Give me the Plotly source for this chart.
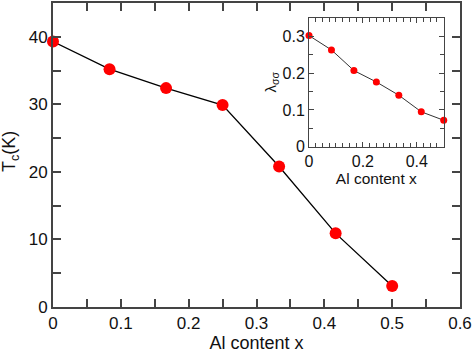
import plotly.graph_objects as go

al_x = [0, 1/12, 2/12, 3/12, 4/12, 5/12, 6/12]
tc = [39.3, 35.2, 32.4, 29.9, 20.8, 10.9, 3.1]
lam = [0.302, 0.263, 0.207, 0.176, 0.140, 0.095, 0.072]

axc = "#444444"
fam = "Liberation Sans"
def F(s):
    return dict(family=fam, size=s, color="#111111")

fig = go.Figure()
fig.add_trace(go.Scatter(x=al_x, y=tc, mode="lines+markers",
                         line=dict(color="black", width=1.3),
                         marker=dict(color="#ff0000", size=12),
                         cliponaxis=False, xaxis="x", yaxis="y"))
fig.add_trace(go.Scatter(x=al_x, y=lam, mode="lines+markers",
                         line=dict(color="#333333", width=1),
                         marker=dict(color="#ff0000", size=7),
                         cliponaxis=False, xaxis="x2", yaxis="y2"))

common = dict(showgrid=False, zeroline=False, showline=True, linecolor=axc,
              ticks="inside", tickcolor=axc, mirror="allticks")

fig.update_layout(
    width=474, height=353,
    margin=dict(l=53, r=14, t=1, b=46),
    paper_bgcolor="white", plot_bgcolor="white",
    showlegend=False, font=F(15),
    xaxis=dict(**common, range=[0, 0.6], linewidth=2,
               ticklen=8, tickwidth=1.5, tickfont=F(17),
               minor=dict(dtick=0.05, ticklen=8, tickcolor=axc, ticks="inside"),
               tickvals=[0, 0.1, 0.2, 0.3, 0.4, 0.5, 0.6],
               ticktext=["0", "0.1", "0.2", "0.3", "0.4", "0.5", "0.6"],
               title=dict(text="Al content x", standoff=3, font=F(18)),
               domain=[0, 1]),
    yaxis=dict(**common, range=[0, 45], linewidth=2,
               ticklen=8, tickwidth=1.5, tickfont=F(17),
               tickvals=[0, 10, 20, 30, 40],
               ticktext=["0", "10", "20", "30", "40"],
               minor=dict(dtick=5, ticklen=8, tickcolor=axc, ticks="inside"),
               domain=[0, 1]),
    xaxis2=dict(**common, range=[0, 0.5], tickvals=[0, 0.2, 0.4],
                ticktext=["0", "0.2", "0.4"], linewidth=1, ticklen=5, tickwidth=1,
                tickfont=F(16),
                minor=dict(dtick=0.025, ticklen=4, tickcolor=axc, ticks="inside"),
                anchor="y2", domain=[0.629, 0.960],
                title=dict(text="Al content x", standoff=1, font=F(15.5))),
    yaxis2=dict(**common, range=[0, 0.35], tickvals=[0, 0.1, 0.2, 0.3],
                ticktext=["0", "0.1", "0.2", "0.3"], linewidth=1, ticklen=5, tickwidth=1,
                tickfont=F(16),
                minor=dict(dtick=0.05, ticklen=4, tickcolor=axc, ticks="inside"),
                anchor="x2", domain=[0.527, 0.951],
                title=dict(text="λ<sub>σσ</sub>", standoff=2, font=F(15))),
    annotations=[dict(text="T<sub>c</sub>(K)", textangle=-90, font=F(18),
                      xref="paper", yref="paper", x=0, y=0.51,
                      xanchor="center", yanchor="middle", xshift=-42,
                      showarrow=False)],
)

fig.write_html("out.html")
